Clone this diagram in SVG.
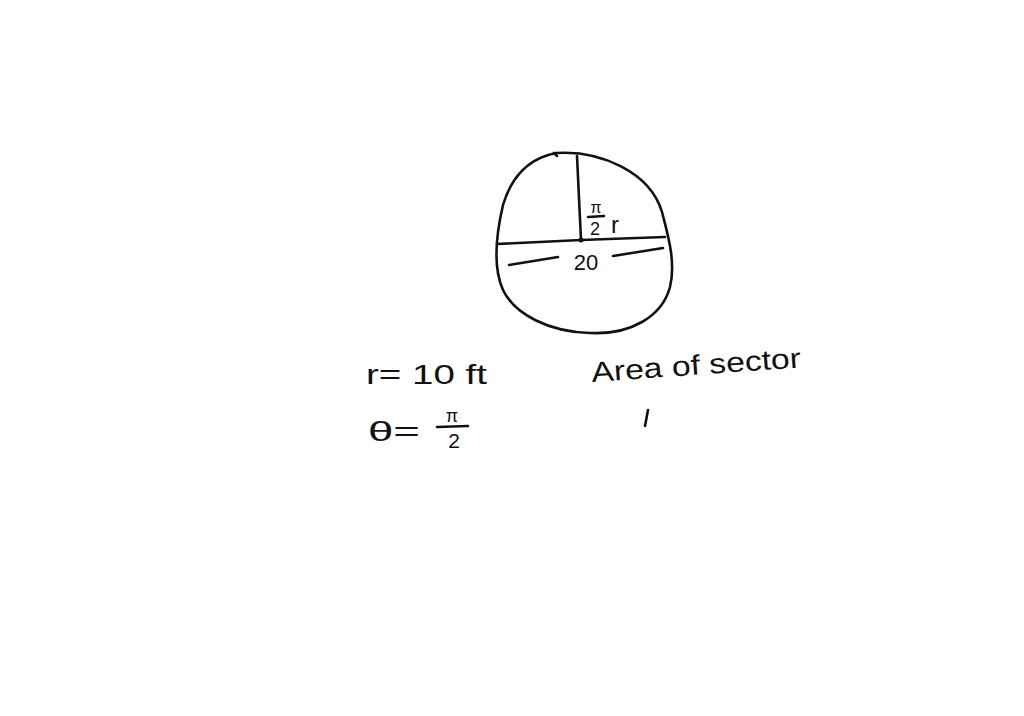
<svg xmlns="http://www.w3.org/2000/svg" width="1024" height="716" viewBox="0 0 1024 716">
<style>
.ink{fill:none;stroke:#111;stroke-width:2.6;stroke-linecap:round;stroke-linejoin:round}
.hw{font-family:"Liberation Sans","DejaVu Sans",sans-serif;fill:#111}
</style>
<rect width="1024" height="716" fill="#fff"/>
<g id="circle">
<path class="ink" d="M556,153 C600,150 650,172 662,212 C668,235 676,262 670,287 C662,317 630,335 590,333 C550,332 515,315 503,290 C493,268 496,235 503,205 C512,175 530,158 556,153 Z"/>
<path class="ink" d="M554,153 L557,156"/>
<path class="ink" d="M577,156 L581,240"/>
<path class="ink" d="M497,244 L581,240 L665,237"/>
<circle cx="581" cy="240" r="2.5" fill="#111"/>
<path class="ink" d="M509,265 L558,257"/>
<path class="ink" d="M613,256 L663,248"/>
<text class="hw" x="586" y="270" font-size="22" text-anchor="middle">20</text>
<text class="hw" x="596" y="213" font-size="16" text-anchor="middle">π</text>
<path class="ink" d="M588,217 L604,216" stroke-width="1.8"/>
<text class="hw" x="595" y="235" font-size="18" text-anchor="middle">2</text>
<text class="hw" x="615" y="233" font-size="24" text-anchor="middle">r</text>
</g>
<g id="given">
<text class="hw" x="366" y="384" font-size="28" textLength="121" lengthAdjust="spacingAndGlyphs">r= 10 ft</text>
<text class="hw" x="368" y="441" font-size="28" textLength="52" lengthAdjust="spacingAndGlyphs">θ=</text>
<text class="hw" x="452" y="422" font-size="18" text-anchor="middle">π</text>
<path class="ink" d="M437,427 L468,426" stroke-width="2"/>
<text class="hw" x="454" y="448" font-size="21" text-anchor="middle">2</text>
</g>
<g id="area">
<text class="hw" x="592" y="382" font-size="28" transform="rotate(-4 592 382)" textLength="210" lengthAdjust="spacingAndGlyphs">Area of sector</text>
<path class="ink" d="M645,426 L648,410"/>
</g>
</svg>
